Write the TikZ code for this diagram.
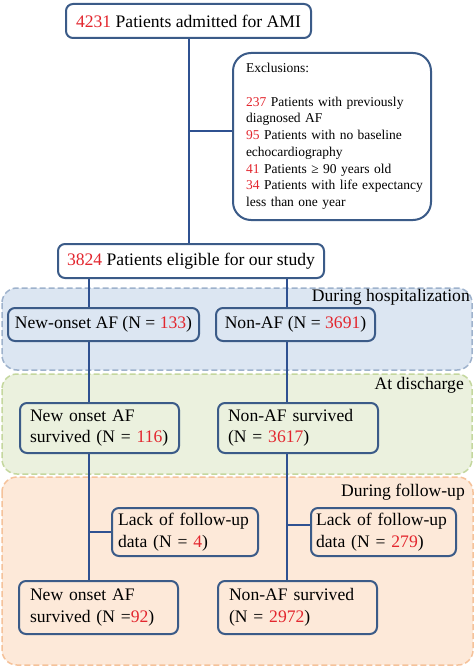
\documentclass[tikz,border=0pt]{standalone}
\usepackage{fontspec}
\setmainfont{Liberation Serif}
\usetikzlibrary{calc}
\definecolor{numred}{HTML}{E3262E}
\definecolor{boxline}{HTML}{3B5B88}
\definecolor{connblue}{HTML}{2F5191}
\definecolor{hospfill}{HTML}{DCE6F2}
\definecolor{hospline}{HTML}{9EB2CC}
\definecolor{dischfill}{HTML}{EBF1DE}
\definecolor{dischline}{HTML}{C4D79E}
\definecolor{fufill}{HTML}{FDE9D9}
\definecolor{fuline}{HTML}{F5C29A}
\newcommand\rn[1]{\textcolor{numred}{#1}}
\begin{document}
\begin{tikzpicture}[x=1pt,y=-1pt,
  flowbox/.style={draw=boxline, line width=2pt, rounded corners=7pt, inner sep=0pt,
    anchor=north west, font=\fontsize{17.6}{21.5}\selectfont},
  zone/.style={dash pattern=on 6pt off 3pt, line width=1.5pt, rounded corners=15pt},
  conn/.style={draw=connblue, line width=2pt},
  zonelabel/.style={anchor=base east, inner sep=0pt, font=\fontsize{17.6}{20}\selectfont}]
\useasboundingbox (0,0) rectangle (474,668);
% zones
\draw[zone, draw=hospline, fill=hospfill] (2,288) rectangle (472,370);
\draw[zone, draw=dischline, fill=dischfill] (2,374) rectangle (472,474);
\draw[zone, draw=fuline, fill=fufill] (2,477) rectangle (473,665);
\node[zonelabel] (lh) at (470,301) {During hospitalization};
\node[zonelabel] (ld) at (464,389) {At discharge};
\node[zonelabel] (lf) at (465,496) {During follow-up};
% boxes
\node[flowbox, fill=white, minimum width=245pt, minimum height=34pt] (top) at (65,3)
  {\rn{4231} Patients admitted for AMI};
\node[flowbox, fill=white, rounded corners=18pt, minimum width=198pt, minimum height=167pt,
  text width=172pt, align=left, font=\fontsize{13.5}{16.75}\selectfont] (excl) at (232,52)
  {Exclusions:\\[16.75pt]
   \mbox{\rn{237} Patients with previously}\\
   diagnosed AF\\
   \mbox{\rn{95} Patients with no baseline}\\
   echocardiography\\
   \mbox{\rn{41} Patients ≥ 90 years old}\\
   \mbox{\rn{34} Patients with life expectancy}\\
   less than one year};
\node[flowbox, fill=white, minimum width=266pt, minimum height=34pt] (elig) at (57,243)
  {\rn{3824} Patients eligible for our study};
\node[flowbox, minimum width=191pt, minimum height=33pt] (newaf) at (7,307)
  {New-onset AF (N = \rn{133})};
\node[flowbox, minimum width=159pt, minimum height=33pt] (nonaf) at (215,307)
  {Non-AF (N = \rn{3691})};
\node[flowbox, minimum width=159pt, minimum height=50pt, text width=139pt, align=left] (surv1) at (19,402)
  {New onset AF\\survived (N = \rn{116})};
\node[flowbox, minimum width=160pt, minimum height=50pt, text width=140pt, align=left] (surv2) at (217,402)
  {Non-AF survived\\(N = \rn{3617})};
\node[flowbox, minimum width=146pt, minimum height=48pt, text width=134pt, align=left] (lack1) at (111,507)
  {Lack of follow-up\\data (N = \rn{4})};
\node[flowbox, minimum width=145pt, minimum height=48pt, text width=135pt, align=left] (lack2) at (310,507)
  {Lack of follow-up\\data (N = \rn{279})};
\node[flowbox, minimum width=159pt, minimum height=53pt, text width=137pt, align=left] (fin1) at (18,580)
  {New onset AF\\survived (N =\rn{92})};
\node[flowbox, minimum width=159pt, minimum height=53pt, text width=137pt, align=left] (fin2) at (217,580)
  {Non-AF survived\\(N = \rn{2972})};
% connectors
\coordinate (L) at (89,0);
\coordinate (R) at (287,0);
\coordinate (eb) at (0,131);
\coordinate (rb) at (0,525);
\draw[conn] (top.south) -- (top.south |- elig.north);
\draw[conn] (top.south |- eb) -- (excl.west |- eb);
\draw[conn] (elig.south -| L) -- (newaf.north -| L);
\draw[conn] (newaf.south -| L) -- (surv1.north -| L);
\draw[conn] (surv1.south -| L) -- (fin1.north -| L);
\draw[conn] (L |- lack1.west) -- (lack1.west);
\draw[conn] (elig.south -| R) -- (nonaf.north -| R);
\draw[conn] (nonaf.south -| R) -- (surv2.north -| R);
\draw[conn] (surv2.south -| R) -- (fin2.north -| R);
\draw[conn] (R |- rb) -- (lack2.west |- rb);
\end{tikzpicture}
\end{document}
